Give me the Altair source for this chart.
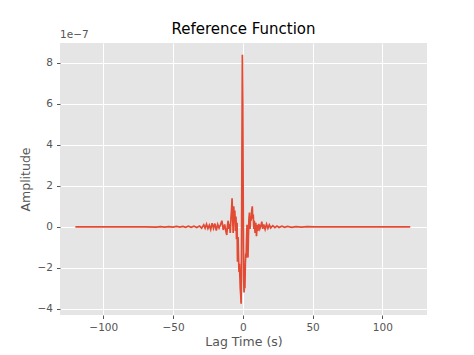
import altair as alt
import pandas as pd

# Lag time (s)
lags = [-120, -90, -70, -62, -59, -56, -53, -50, -47.5, -45, -43, -41, -39, -37, -35, -33, -31,
        -29.5, -28, -27, -26, -25, -24, -23, -22, -21, -20, -19, -18, -17, -16, -15, -14, -13,
        -12, -11.5, -11, -10.5, -10, -9.5, -9, -8.5, -8, -7.7, -7.3, -6.9, -6.5, -6.1, -5.7,
        -5.3, -4.9, -4.5, -4.1, -3.8, -3.4, -3.0, -2.7, -2.4, -2.1, -1.8, -1.5, -1.2, -0.9,
        -0.6, -0.3, 0.0, 0.3, 0.6, 0.9, 1.2, 1.5, 1.8, 2.1, 2.4, 2.7, 3.0, 3.3, 3.7, 4.0, 4.4,
        4.8, 5.2, 5.6, 6.0, 6.4, 6.8, 7.1, 7.5, 7.9, 8.3, 8.8, 9.3, 9.8, 10.3, 10.8, 11.5,
        12.2, 13, 13.6, 14.3, 15, 16, 17, 18, 19, 20, 21.5, 23, 24.5, 26, 28, 30, 32, 35, 38,
        42, 46, 52, 70, 90, 120]

# Amplitude in units of 1e-7
amps = [0, 0, 0.0, -0.01, 0.01, -0.01, 0.01, -0.01, 0.02, -0.01, 0.02, -0.02, 0.03, -0.02,
        0.03, -0.03, 0.04, -0.06, 0.1, -0.06, 0.13, -0.08, 0.08, -0.13, 0.18, -0.07, 0.16, -0.18,
        0.12, -0.06, 0.1, 0.3, -0.15, 0.12, -0.25, -0.4, 0.05, 0.3, -0.1, 0.15, -0.3, 0.4, 0.9,
        1.4, 0.5, -0.3, 1.0, 0.4, 0.8, -0.2, 0.5, -0.6, 0.2, -1.7, -0.5, -1.6, -2.2, -1.8,
        -2.4, -3.0, -3.3, -3.75, -1.0, 4.0, 8.4, 6.0, 1.0, -2.5, -3.2, -2.8, -3.0, -1.8, -1.3,
        -1.5, -0.6, 0.1, -0.4, -1.5, -0.5, 0.4, 0.7, -0.1, 0.5, 0.3, 0.8, 1.0, 0.4, 0.6, -0.1,
        0.3, -0.3, 0.2, -0.45, 0.1, -0.2, 0.15, -0.1, 0.05, 0.25, -0.1, 0.12, -0.12, 0.13,
        -0.07, 0.1, -0.05, 0.06, -0.04, 0.04, -0.03, 0.03, -0.02, 0.02, -0.02, 0.01, -0.01,
        0.01, 0, 0, 0, 0]

x_ticks = [-100, -50, 0, 50, 100]
y_ticks = [-4, -2, 0, 2, 4, 6, 8]

df = pd.DataFrame({"lag": lags, "amp": amps})

FONT = "DejaVu Sans"
minus = "replace(datum.label, '-', '\u2212')"

line = alt.Chart(df).mark_line(color="#E24A33", strokeWidth=1.7).encode(
    x=alt.X("lag:Q", scale=alt.Scale(domain=[-131, 132], nice=False, zero=False),
            axis=alt.Axis(values=x_ticks, title="Lag Time (s)", labelExpr=minus,
                          titlePadding=2)),
    y=alt.Y("amp:Q", scale=alt.Scale(domain=[-4.3, 8.97], nice=False, zero=False),
            axis=alt.Axis(values=y_ticks, title="Amplitude", labelExpr=minus,
                          titlePadding=5)),
)

exp_text = alt.Chart(pd.DataFrame({"t": ["1e\u22127"]})).mark_text(
    align="left", baseline="bottom", fontSize=10.5, color="#555555", font=FONT
).encode(x=alt.value(0), y=alt.value(-3), text="t:N")

chart = alt.layer(line, exp_text).properties(
    width=367, height=272,
    title=alt.TitleParams("Reference Function", fontSize=15, fontWeight="normal",
                          font=FONT, color="black", anchor="middle", offset=6, dy=13),
    autosize="none",
    padding={"left": 52, "top": 35, "right": 30, "bottom": 38},
).configure_view(
    fill="#E5E5E5", stroke=None
).configure_axis(
    domain=False, grid=True, gridColor="white", gridWidth=1,
    tickColor="#555555", tickSize=3.5, tickWidth=1,
    labelColor="#555555", labelFontSize=10.5, labelFont=FONT, labelPadding=4,
    titleColor="#555555", titleFontSize=12.5, titleFont=FONT, titleFontWeight="normal",
)

chart.save("out.html", embed_options={"renderer": "svg", "actions": False})
